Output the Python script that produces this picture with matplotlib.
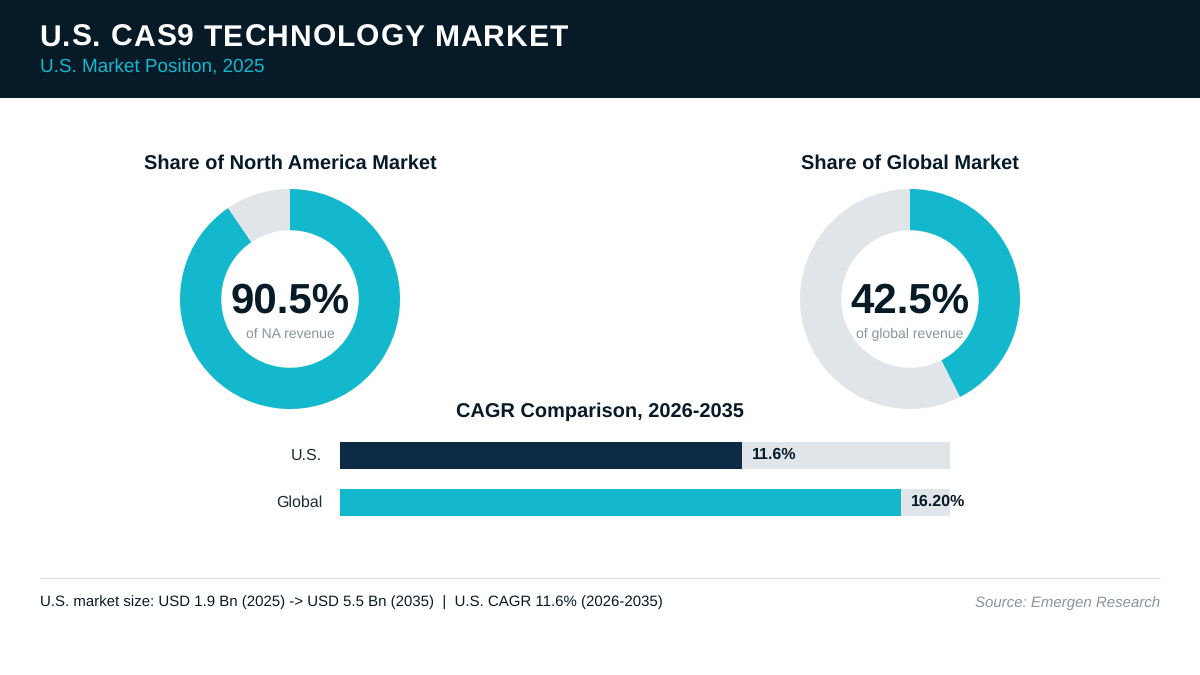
import matplotlib
matplotlib.use("Agg")
import matplotlib.pyplot as plt
from matplotlib.patches import Rectangle
from matplotlib.text import Text
from matplotlib.transforms import IdentityTransform

plt.rcParams['font.family'] = ['Liberation Sans', 'DejaVu Sans']
plt.rcParams['text.hinting'] = 'none'
plt.rcParams['text.hinting_factor'] = 8

main_title = "U.S. CAS9 TECHNOLOGY MARKET"
sub_title = "U.S. Market Position, 2025"
donut_titles = ["Share of North America Market", "Share of Global Market"]
donut_values = [90.5, 42.5]
donut_labels = ["90.5%", "42.5%"]
donut_subs = ["of NA revenue", "of global revenue"]
bar_categories = ["U.S.", "Global"]
bar_values = [11.6, 16.2]
bar_labels = ["11.6%", "16.20%"]
bar_track_max = 17.6

TEAL = "#14b8cc"
GREY = "#e0e5ea"
NAVY = "#0d2b45"
DARK = "#071a28"
W, H = 1200, 675


class SpacedText(Text):
    """One text object, drawn with letter spacing (in pixels)."""
    spacing = 0.0

    def draw(self, renderer):
        x0, y0 = self.get_transform().transform(self.get_position())
        fp = self.get_fontproperties()
        s = self.get_text()
        for i, ch in enumerate(s):
            w = renderer.get_text_width_height_descent(s[:i + 1], fp, False)[0] if i else 0
            wc = renderer.get_text_width_height_descent(ch, fp, False)[0]
            px = x0 + (w - wc if i else 0) + i * self.spacing
            t = Text(px, y0, ch, fontproperties=fp, color=self.get_color(),
                     va="baseline", ha="left", transform=IdentityTransform())
            t.set_figure(self.get_figure())
            t.draw(renderer)


fig = plt.figure(figsize=(12, 6.75), dpi=100, facecolor="white")
bg = fig.add_axes([0, 0, 1, 1])
bg.set_xlim(0, W); bg.set_ylim(H, 0); bg.axis("off")
bg.add_patch(Rectangle((0, 0), W, 98, color=DARK, lw=0))
tt = SpacedText(39, 46, main_title, fontsize=21.6, fontweight="bold",
                color="white", va="baseline", ha="left", transform=bg.transData)
tt.spacing = 1.0
bg.add_artist(tt)
bg.text(40, 73, sub_title, fontsize=13.6, color=TEAL, va="baseline", ha="left")

centers = [290, 910]
for cx, title, val, lab, sub in zip(centers, donut_titles, donut_values, donut_labels, donut_subs):
    ax = fig.add_axes([(cx - 112) / W, 1 - (299 + 112) / H, 224 / W, 224 / H])
    ax.pie([val, 100 - val], colors=[TEAL, GREY], startangle=90, counterclock=False,
           radius=1.0, wedgeprops=dict(width=0.375, edgecolor="white", linewidth=0))
    ax.set_xlim(-1.018, 1.018); ax.set_ylim(-1.018, 1.018)
    bg.text(cx, 169, title, fontsize=14.4, fontweight="bold", color=DARK, ha="center", va="baseline")
    bg.text(cx, 313, lab, fontsize=30.24, fontweight="bold", color=DARK, ha="center", va="baseline", zorder=5)
    bg.text(cx, 338, sub, fontsize=10.08, color="#8a949c", ha="center", va="baseline", zorder=5)

bg.text(600, 417, "CAGR Comparison, 2026-2035", fontsize=14.4, fontweight="bold",
        color=DARK, ha="center", va="baseline", zorder=6)

bax = fig.add_axes([340 / W, 1 - 527 / H, 610 / W, 95 / H])
bax.set_xlim(0, bar_track_max)
bax.set_ylim(1.521, -0.5)
bax.axis("off")
ypos = range(len(bar_values))
bax.barh(ypos, [bar_track_max] * 2, height=27 / 47, color=GREY, lw=0)
bax.barh(ypos, bar_values, height=27 / 47, color=[NAVY, TEAL], lw=0)
for y, c, v, l in zip(ypos, bar_categories, bar_values, bar_labels):
    bax.annotate(l, (v, y), xytext=(10, 1), textcoords="offset pixels",
                 fontsize=11.52, fontweight="bold", color=DARK, va="center", ha="left", annotation_clip=False)
    bax.annotate(c, (0, y), xytext=(-18, 0), textcoords="offset pixels",
                 fontsize=11.52, color="#1c2b36", va="center", ha="right", annotation_clip=False)

bg.plot([40, 1160], [577.5, 577.5], color="#d9dde1", lw=0.72, solid_capstyle="butt")
bg.text(40, 607, "U.S. market size: USD 1.9 Bn (2025) -> USD 5.5 Bn (2035)  |  U.S. CAGR 11.6% (2026-2035)",
        fontsize=10.8, color=DARK, va="baseline")
bg.text(1160, 607, "Source: Emergen Research", fontsize=10.8, style="italic", color="#8a949c",
        va="baseline", ha="right")

fig.savefig("out.png", dpi=100)
